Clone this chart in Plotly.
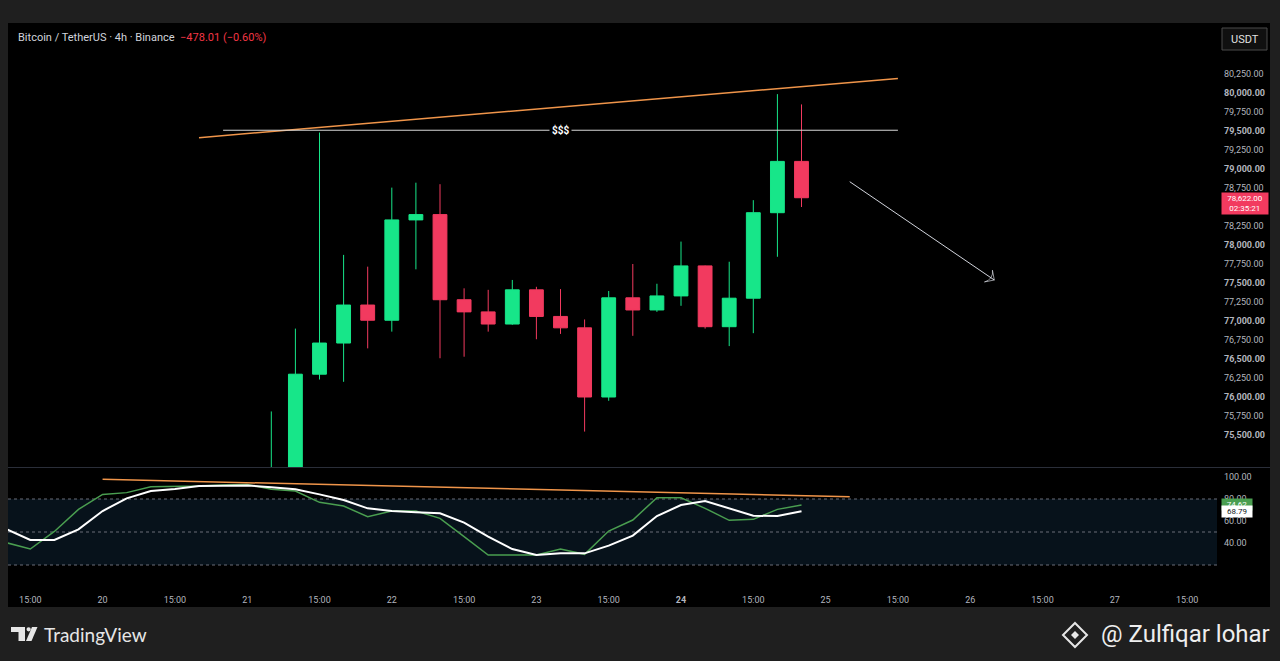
import pandas as pd
import plotly.graph_objects as go

# 4h candles, BTC/USDT (Binance), times in chart timezone
candle_times = pd.date_range("2025-11-21 07:00", periods=23, freq="4h")
opens = [74700, 74950, 76300, 76710, 77210, 77010, 78330, 78400, 77280, 77120,
         76960, 77410, 77060, 76910, 76000, 77305, 77145, 77330, 77725, 76925,
         77300, 78425, 79100]
highs = [75810, 76900, 79480, 77870, 77715, 78755, 78820, 78800, 77430, 77410,
         77540, 77450, 77420, 77020, 77395, 77750, 77490, 78045, 77730, 77780,
         78590, 79985, 79850]
lows = [74500, 74900, 76230, 76200, 76640, 76860, 77680, 76510, 76530, 76860,
        76950, 76760, 76830, 75545, 75950, 76805, 77120, 77200, 76900, 76670,
        76840, 77845, 78500]
closes = [74950, 76300, 76710, 77210, 77010, 78330, 78400, 77280, 77120, 76960,
          77410, 77060, 76910, 76000, 77305, 77145, 77330, 77725, 76925, 77300,
          78425, 79100, 78622]

# Stoch RSI (one value per 4h bar)
stoch_times = pd.date_range("2025-11-19 11:00", periods=34, freq="4h")
stoch_k = [40.3, 34.5, 50.5, 70.6, 84.2, 85.8, 91.2, 91.2, 91.8, 92.7, 93.3, 88.8,
           87.3, 77.0, 73.6, 63.9, 69.1, 69.1, 62.4, 45.8, 29.1, 29.1, 29.1, 34.5,
           29.7, 50.9, 60.9, 81.2, 81.2, 71.5, 60.6, 61.5, 70.6, 74.6]
stoch_d = [52.7, 42.7, 42.7, 52.4, 69.1, 80.6, 87.3, 89.1, 91.8, 92.1, 92.4, 90.6,
           88.8, 84.2, 79.1, 71.5, 69.1, 67.9, 67.0, 58.5, 45.8, 34.5, 29.1, 30.6,
           30.6, 37.6, 46.7, 64.5, 74.5, 78.2, 71.5, 64.8, 64.5, 68.79]

# drawings
trend_pts = [("2025-11-20 19:00", 79412), ("2025-11-25 15:00", 80191)]
liq_pts = [("2025-11-20 23:00", 79510), ("2025-11-25 15:00", 79510)]
liq_label = ("2025-11-23 07:00", 79510)
arrow_pts = [("2025-11-25 07:00", 78833), ("2025-11-26 07:00", 77539)]
stoch_trend = [("2025-11-20 03:00", 97.9), ("2025-11-25 07:00", 82.1)]

price_ticks = list(range(75500, 80251, 250))
stoch_ticks = [40, 60, 80, 100]
day_labels = [20, 21, 22, 23, 24, 25, 26, 27]
half_labels = [19, 20, 21, 22, 23, 24, 25, 26, 27]

GREEN = "#17e689"
RED = "#f23a5f"
STOCH_G = "#4a9e50"
GRAY_BG = "#1f1f1f"
TXT = "#b2b5be"

# page has an 8px body margin, so the figure is drawn 8px in from the corner
OFF = 8
W, H = 1280 - OFF, 661 - OFF


def px(x):
    return (x - OFF) / W


def py(y):
    return 1 - (y - OFF) / H


anchor = pd.Timestamp("2025-11-24 03:00")
x_range = [anchor - pd.Timedelta(hours=111.7), anchor + pd.Timedelta(hours=88.96)]

fig = go.Figure()

fig.add_trace(go.Candlestick(
    x=candle_times, open=opens, high=highs, low=lows, close=closes,
    increasing=dict(line=dict(color=GREEN, width=1), fillcolor=GREEN),
    decreasing=dict(line=dict(color=RED, width=1), fillcolor=RED),
    whiskerwidth=0, xaxis="x", yaxis="y", showlegend=False))

fig.add_trace(go.Scatter(x=stoch_times, y=stoch_k, mode="lines",
                         line=dict(color=STOCH_G, width=1.5),
                         xaxis="x2", yaxis="y2", showlegend=False))
fig.add_trace(go.Scatter(x=stoch_times, y=stoch_d, mode="lines",
                         line=dict(color="#ffffff", width=2),
                         xaxis="x2", yaxis="y2", showlegend=False))

# arrow drawing (line + open head)
fig.add_trace(go.Scatter(x=[p[0] for p in arrow_pts], y=[p[1] for p in arrow_pts],
                         mode="lines+markers",
                         line=dict(color="#d1d4dc", width=1),
                         marker=dict(symbol=["circle", "arrow-wide-open"], size=[0, 10],
                                     angleref="previous", color="#d1d4dc",
                                     line=dict(color="#d1d4dc", width=1)),
                         xaxis="x", yaxis="y", showlegend=False))

shapes = []
# chart card
shapes.append(dict(type="rect", xref="paper", yref="paper", x0=px(8), x1=px(1270),
                   y0=py(607), y1=py(23), fillcolor="#000000", line_width=0, layer="below"))
# stoch band + levels
shapes.append(dict(type="rect", xref="x2 domain", yref="y2", x0=0, x1=1, y0=20, y1=80,
                   fillcolor="#07121b", line_width=0, layer="below"))
for lvl in [80, 50, 20]:
    shapes.append(dict(type="line", xref="x2 domain", yref="y2", x0=0, x1=1, y0=lvl, y1=lvl,
                       line=dict(color="#6a6d78", width=1, dash="3px,3px"), layer="below"))
# pane separator
shapes.append(dict(type="line", xref="paper", yref="paper", x0=px(8), x1=px(1270),
                   y0=py(467.5), y1=py(467.5), line=dict(color="#2a2e39", width=1)))
# trendline + liquidity line
shapes.append(dict(type="line", xref="x", yref="y", x0=trend_pts[0][0], y0=trend_pts[0][1],
                   x1=trend_pts[1][0], y1=trend_pts[1][1], line=dict(color="#f0954a", width=1.5)))
shapes.append(dict(type="line", xref="x", yref="y", x0=liq_pts[0][0], y0=liq_pts[0][1],
                   x1=liq_pts[1][0], y1=liq_pts[1][1], line=dict(color="#d8d8d8", width=1)))
shapes.append(dict(type="line", xref="x2", yref="y2", x0=stoch_trend[0][0], y0=stoch_trend[0][1],
                   x1=stoch_trend[1][0], y1=stoch_trend[1][1], line=dict(color="#f0954a", width=1.5)))
# USDT button
shapes.append(dict(type="rect", xref="paper", yref="paper", x0=px(1222), x1=px(1267),
                   y0=py(50), y1=py(28), fillcolor="#101010",
                   line=dict(color="#4a4a4a", width=1)))
# TradingView logo
shapes.append(dict(type="path", xref="paper", yref="paper", fillcolor="#e6e6e6", line_width=0,
                   path=f"M {px(11)} {py(627)} L {px(25)} {py(627)} L {px(25)} {py(641)} "
                        f"L {px(18.5)} {py(641)} L {px(18.5)} {py(632)} L {px(11)} {py(632)} Z"))
shapes.append(dict(type="circle", xref="paper", yref="paper", fillcolor="#e6e6e6", line_width=0,
                   x0=px(26.5), x1=px(30.8), y0=py(631.5), y1=py(627.2)))
shapes.append(dict(type="path", xref="paper", yref="paper", fillcolor="#e6e6e6", line_width=0,
                   path=f"M {px(32)} {py(627)} L {px(37.5)} {py(627)} L {px(31.5)} {py(641)} "
                        f"L {px(26)} {py(641)} Z"))
# watermark logo (diamond)
cx, cy, r = 1075, 635, 12
shapes.append(dict(type="path", xref="paper", yref="paper", line=dict(color="#e6e6e6", width=2),
                   path=f"M {px(cx)} {py(cy - r)} L {px(cx + r)} {py(cy)} L {px(cx)} {py(cy + r)} "
                        f"L {px(cx - r)} {py(cy)} Z"))
shapes.append(dict(type="path", xref="paper", yref="paper", fillcolor="#e6e6e6", line_width=0,
                   path=f"M {px(cx)} {py(cy - 4)} L {px(cx + 4)} {py(cy)} L {px(cx)} {py(cy + 4)} "
                        f"L {px(cx - 4)} {py(cy)} Z"))

annotations = []
annotations.append(dict(xref="paper", yref="paper", x=px(16), y=py(37), xanchor="left",
                        yanchor="middle", showarrow=False,
                        text="Bitcoin / TetherUS · 4h · Binance&nbsp;&nbsp;"
                             "<span style='color:#f23645'>−478.01 (−0.60%)</span>",
                        font=dict(size=11, color="#d1d4dc", family="Roboto")))
annotations.append(dict(xref="x", yref="y", x=liq_label[0], y=liq_label[1], text="<b>$$$</b>",
                        showarrow=False, bgcolor="#000000", borderpad=2,
                        font=dict(size=10, color="#ffffff", family="Roboto")))
annotations.append(dict(xref="paper", yref="paper", x=px(1244.5), y=py(39), text="USDT",
                        xanchor="center", yanchor="middle",
                        showarrow=False, font=dict(size=11, color="#e0e0e0", family="Roboto")))
# last-price tag: price on the first line, bar countdown under it
annotations.append(dict(xref="paper", yref="y", x=px(1221), y=closes[-1], xanchor="left",
                        yanchor="top", yshift=6,
                        text="78,622.00<br>02:35:21", showarrow=False, bgcolor=RED,
                        align="center", borderpad=1, width=44,
                        font=dict(size=8, color="#ffffff", family="Roboto")))
annotations.append(dict(xref="paper", yref="y2", x=px(1221), y=stoch_k[-1], xanchor="left",
                        yanchor="middle",
                        text="74.62", showarrow=False, bgcolor=STOCH_G, borderpad=1, width=28,
                        font=dict(size=8, color="#ffffff", family="Roboto")))
annotations.append(dict(xref="paper", yref="y2", x=px(1221), y=stoch_d[-1], xanchor="left",
                        yanchor="middle",
                        text="68.79", showarrow=False, bgcolor="#ffffff", borderpad=1, width=28,
                        font=dict(size=8, color="#131722", family="Roboto")))
annotations.append(dict(xref="paper", yref="paper", x=px(42), y=py(634), xanchor="left",
                        yanchor="middle", text="TradingView", showarrow=False,
                        font=dict(size=19, color="#e6e6e6", family="Lato")))
annotations.append(dict(xref="paper", yref="paper", x=px(1272), y=py(634), xanchor="right",
                        yanchor="middle", text="@ Zulfiqar lohar", showarrow=False,
                        font=dict(size=24, color="#eeeeee",
                                  family="Liberation Sans Narrow, Roboto")))

tick_x = ([pd.Timestamp(f"2025-11-{d} 03:00") for d in day_labels]
          + [pd.Timestamp(f"2025-11-{d} 15:00") for d in half_labels])
tick_t = ([f"<b>{d}</b>" if d == 24 else str(d) for d in day_labels]
          + ["15:00"] * len(half_labels))

# 78,500 sits under the last-price tag, so its label is hidden
price_text = ["" if v == 78500 else (f"<b>{v:,.2f}</b>" if v % 500 == 0 else f"{v:,.2f}")
              for v in price_ticks]

fig.update_layout(
    width=W, height=H,
    margin=dict(l=0, r=0, t=0, b=0),
    paper_bgcolor=GRAY_BG, plot_bgcolor="#000000",
    boxgap=0.18,
    shapes=shapes, annotations=annotations,
    xaxis=dict(domain=[px(8), px(1217)], range=x_range, anchor="y",
               showticklabels=False, showgrid=False, zeroline=False,
               rangeslider=dict(visible=False)),
    xaxis2=dict(domain=[px(8), px(1217)], range=x_range, anchor="y2", matches="x",
                tickmode="array", tickvals=tick_x, ticktext=tick_t,
                tickfont=dict(size=9, color=TXT, family="Roboto"), ticklabelstandoff=7,
                showgrid=False, zeroline=False, ticks=""),
    yaxis=dict(domain=[py(467), py(23)], range=[75079, 80921], side="right",
               anchor="x", tickmode="array", tickvals=price_ticks, ticktext=price_text,
               tickfont=dict(size=9, color=TXT, family="Roboto"), ticklabelstandoff=6,
               showgrid=False, zeroline=False, ticks=""),
    yaxis2=dict(domain=[py(586), py(468)], range=[0.9, 108.2], side="right",
                anchor="x2", tickmode="array", tickvals=stoch_ticks,
                ticktext=[f"{v:.2f}" for v in stoch_ticks],
                tickfont=dict(size=9, color=TXT, family="Roboto"), ticklabelstandoff=6,
                showgrid=False, zeroline=False, ticks=""),
)

# page margin strip gets the same grey as the screenshot frame
fig.write_html("out.html",
               post_script=f"document.body.style.background='{GRAY_BG}';")
